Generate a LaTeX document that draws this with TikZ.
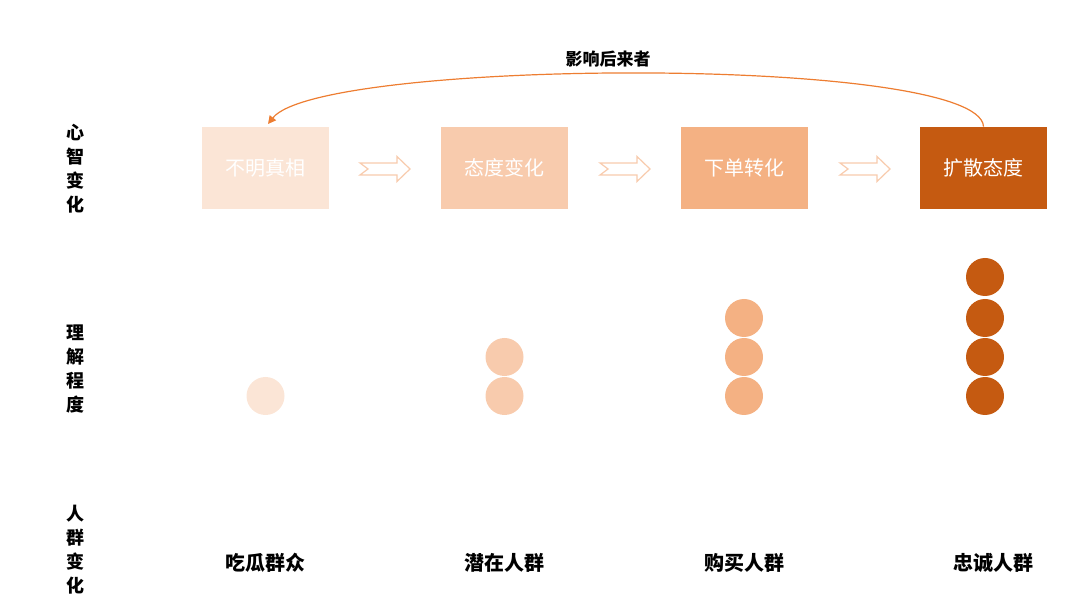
\documentclass[tikz,border=0pt]{standalone}
\usepackage{fontspec}
\setmainfont{Noto Sans CJK SC}
\usepackage{tikz}
\usetikzlibrary{arrows.meta,positioning,calc}
\definecolor{peachA}{HTML}{FBE5D6}
\definecolor{peachB}{HTML}{F8CBAD}
\definecolor{peachC}{HTML}{F4B183}
\definecolor{rust}{HTML}{C55A11}
\definecolor{flame}{HTML}{ED7D31}

\begin{document}
\begin{tikzpicture}[x=0.5pt,y=-0.5pt,
  stage/.style={minimum width=63.5pt,minimum height=41pt,inner sep=0pt,text=white,font=\fontsize{10}{12}\selectfont},
  dot/.style={circle,minimum size=19pt,inner sep=0pt},
  side/.style={align=center,font=\fontsize{9}{12}\selectfont\bfseries},
  crowd/.style={font=\fontsize{10}{12}\selectfont\bfseries},
  arr/.style={-{Triangle[length=4pt,width=4pt]},flame,semithick},
  hollow/.pic={\draw[peachB,fill=white,line width=0.6pt] (-25,-6) -- (12,-6) -- (12,-12.5) -- (25,0) -- (12,12.5) -- (12,6) -- (-25,6) -- (-17,0) -- cycle;}]
  \useasboundingbox (0,0) rectangle (1080,608);
  % stages
  \node[stage,fill=peachA] (unk) at (265.5,168) {不明真相};
  \node[stage,fill=peachB] (att) at (504.5,168) {态度变化};
  \node[stage,fill=peachC] (buy) at (744,168) {下单转化};
  \node[stage,fill=rust] (spr) at (983.5,168) {扩散态度};
  \pic at (385,169) {hollow};
  \pic at (625,169) {hollow};
  \pic at (865,169) {hollow};
  % feedback arc
  \coordinate (arcend) at (268,124);
  \draw[arr] (spr.north) .. controls (980,55) and (320,58) .. (arcend);
  \node[font=\fontsize{8.5}{10}\selectfont\bfseries] (infl) at (608,59) {影响后来者};
  % left headings
  \node[side] (mind) at (75,169) {心\\智\\变\\化};
  \node[side] (know) at (75,369) {理\\解\\程\\度};
  \node[side] (ppl) at (75,550) {人\\群\\变\\化};
  % dots
  \node[dot,fill=peachA] (a1) at (265.5,396) {};
  \node[dot,fill=peachB] (b1) at (504.5,396) {};
  \node[dot,fill=peachB] (b2) at (504.5,357) {};
  \foreach \i/\y in {1/396,2/357,3/318}
    \node[dot,fill=peachC] (c\i) at (744,\y) {};
  \foreach \i/\y in {1/396,2/357,3/318,4/277}
    \node[dot,fill=rust] (d\i) at (985,\y) {};
  % crowds
  \node[crowd] (melon) at (265.5,563) {吃瓜群众};
  \node[crowd] (pot) at (504.5,563) {潜在人群};
  \node[crowd] (buyer) at (744,563) {购买人群};
  \node[crowd] (loyal) at (993,563) {忠诚人群};
\end{tikzpicture}
\end{document}
